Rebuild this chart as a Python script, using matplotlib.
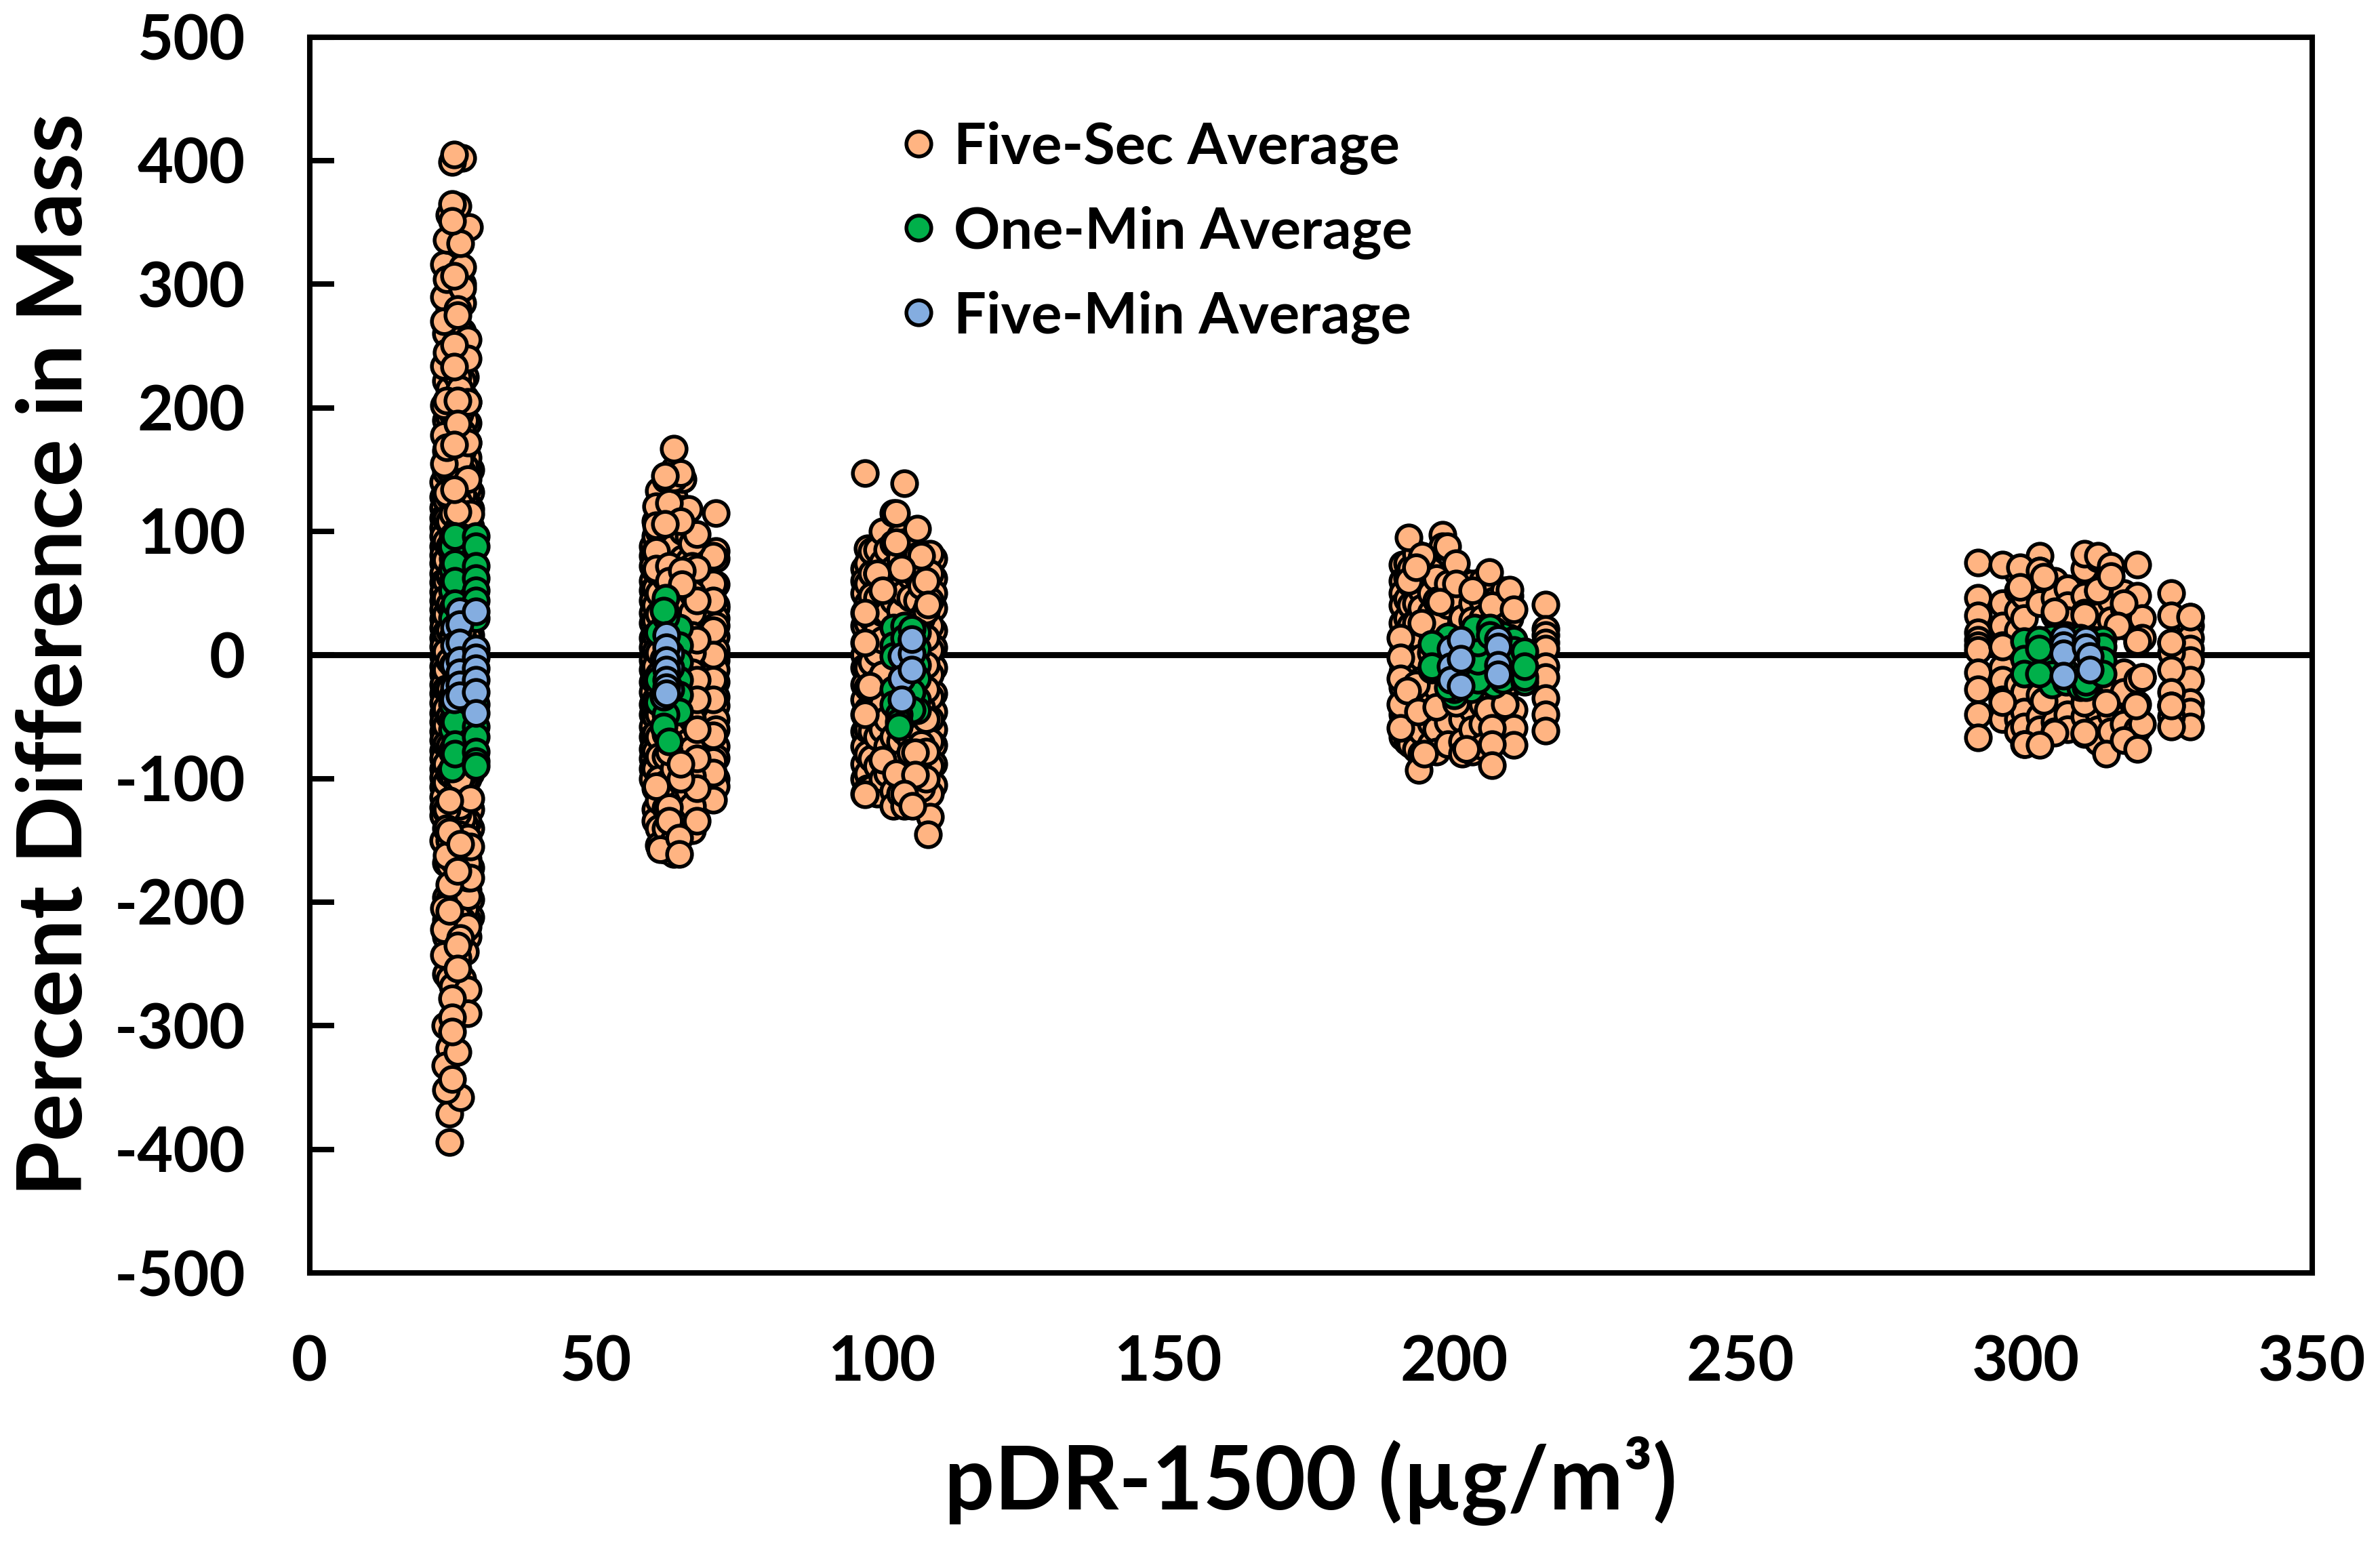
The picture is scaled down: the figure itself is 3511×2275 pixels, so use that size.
import matplotlib
matplotlib.use('Agg')
import matplotlib.pyplot as plt

# each row is (pDR-1500 reading, [percent differences]), rows are drawn in order
five_sec_25 = [
    (28.1, [150, 132, 118, 104, 90, 72, 58, 44, 30, 16, 2, -12, -26, -40, -54, -68, -82, -96, -125, -140, -172, -198, -212]),
    (27.7, [205, 188, 172, 160, 148, 135, 122, 110, 98, 85, 70, 55, 40, 28, 15, 3, -10, -22, -35, -48, -60, -75, -88, -100, -135, -150, -165, -190, -215, -228]),
    (27.2, [245, 225, 208, 190, 170, 152, 140, 125, 108, 92, 78, 60, 42, 26, 10, -6, -20, -38, -52, -68, -84, -100, -120, -138, -160, -205, -222, -240]),
    (26.7, [300, 285, 262, 240, 222, 200, 180, 165, 148, 130, 112, 96, 76, 58, 38, 20, 4, -14, -30, -46, -64, -80, -98, -116, -132, -150, -172, -195, -215, -262]),
    (23.4, [140, 128, 119, 111, 103, 96, 88, 81, 74, 66, 59, 51, 44, 37, 29, 22, 14, 7, -1, -9, -16, -24, -31, -39, -47, -54, -62, -69, -77, -84, -92, -99, -107, -115, -123, -130, -150]),
    (23.9, [260, 222, 190, 165, 148, 126, 110, 92, 77, 60, 46, 33, 18, 3, -12, -27, -43, -57, -72, -88, -103, -126, -140, -168, -196, -214, -228, -258]),
    (24.4, [280, 245, 215, 192, 170, 150, 128, 108, 88, 64, 41, 20, -5, -28, -50, -74, -96, -128, -150, -170, -198, -225, -262, -318]),
    (25.0, [320, 268, 230, 195, 158, 135, 114, 96, 78, 60, 38, 15, -8, -32, -52, -76, -98, -120, -138, -166, -196, -238, -268]),
    (25.9, [225, 190, 168, 146, 125, 102, 84, 62, 40, 18, -6, -30, -54, -82, -104, -128, -146, -162, -190, -212, -245]),
    (26.2, [262, 215, 195, 172, 158, 140, 122, 100, 80, -100, -122, -145, -168, -195, -222]),
    (23.5, [316, 290, 270, 234, 202, 178, 155, -205, -222, -243]),
    (27.6, [255, 240, 205, 172, 142, -195, -168, -148, -180, -220]),
    (24.0, [336, 304, 245, 206, 168, 131, -162, -125, -140]),
    (28.1, [114, -116, -155, -180]),
    (27.9, [346]),
    (26.7, [402, 314, 297]),
    (24.4, [356, -118, -143, -186, -207, -371, -394]),
    (26.4, [333, -229, -153, -358]),
    (23.7, [-332, -300]),
    (27.7, [-271, -290]),
    (23.9, [-352]),
    (25.9, [363, 280, 275, 206, 187, 116, -175, -235, -254, -321]),
    (24.9, [399, 365, 351, -278, -293, -305, -343]),
    (25.3, [405, 307, 251, 233, 170, 134]),
]

five_sec_62 = [
    (71.0, [115, 84, 78, 57, 40, 38, 30, 24, 15, 4, -4, -12, -22, -34, -41, -52, -60, -74, -83, -100, -106]),
    (70.6, [80, 58, 44, 20, 0, -20, -36, -65, -86, -95, -117]),
    (60.0, [88, 80, 72, 60, 52, 44, 34, 26, 14, 6, -4, -12, -22, -30, -40, -48, -58, -66, -76, -84, -92, -100]),
    (60.5, [108, 96, 84, 68, 54, 40, 28, 16, 3, -9, -22, -36, -50, -64, -78, -92, -108, -125, -134]),
    (61.1, [133, 118, 100, 85, 66, 50, 33, 18, 2, -16, -30, -48, -66, -82, -100, -118, -140, -154]),
    (62.3, [142, 120, 98, 84, 62, 44, 20, -10, -42, -64, -82, -104, -124, -140, -158]),
    (63.7, [150, 128, 104, 88, 66, 44, -52, -72, -92, -110, -128, -150, -161]),
    (65.2, [142, 118, 100, 78, 58, 30, 10, -18, -38, -60, -84, -104, -118, -138]),
    (66.3, [118, 96, 76, 60, 42, 22, 6, -8, -26, -46, -70, -92, -110, -128]),
    (66.9, [90, 72, 50, 34, 16, 2, -14, -32, -52, -76, -98, -122, -142]),
    (67.7, [98, 70, 44, 12, -20, -36, -60, -84, -108, -134]),
    (60.6, [120, 105, 84, 70, -106]),
    (62.9, [123, 72, 60, -78]),
    (63.7, [167, 143]),
    (64.9, [147, 108]),
    (62.1, [145, 106]),
    (65.1, [68, 57]),
    (64.8, [-100, -88]),
    (62.9, [-123, -134]),
    (61.3, [-157]),
    (64.6, [-148, -161]),
]

five_sec_104 = [
    (109.0, [78, 62, 50, 38, 20, 6, -10, -31, -46, -60, -73, -88, -105]),
    (108.4, [82, 66, 44, 24, 4, -16, -34, -52, -70, -90, -112, -131]),
    (97.0, [70, 60, 50, 34, 24, 10, 0, -10, -24, -36, -48, -62, -74, -88, -100, -112]),
    (97.6, [86, 74, 58, 42, 26, 8, -10, -26, -44, -60, -80, -96, -108]),
    (98.3, [84, 66, 48, 30, 12, -6, -25, -44, -62, -84, -108]),
    (99.2, [85, 66, 46, 20, 2, -22, -42, -66, -90, -112]),
    (100.2, [100, 75, 52, 34, 12, -16, -40, -60, -85, -100]),
    (101.0, [85, 62, 34, -52, -74, -96]),
    (102.0, [115, 90, 70, 44, -66, -82, -110, -122]),
    (103.2, [96, 78, 54, 36, -70, -88, -112]),
    (103.9, [91, 70, 50, -62, -100, -122]),
    (105.0, [86, 64, 46, -68, -79, -112]),
    (106.2, [102, 80, 64, 44, -58, -90, -97]),
    (106.9, [80, 56, 30, -42, -72, -108]),
    (107.7, [60, 36, 14, -8, -28, -52, -78, -100]),
    (97.1, [147, 34, 10, -48, -113]),
    (103.9, [139]),
    (102.5, [115, 91]),
    (103.5, [70]),
    (99.2, [66]),
    (100.2, [52]),
    (108.1, [41]),
    (97.9, [-25]),
    (100.2, [-85]),
    (102.5, [-96]),
    (105.8, [-79, -97]),
    (103.9, [-112]),
    (105.4, [-122]),
    (108.1, [-145]),
]

five_sec_205 = [
    (216.0, [41, 21, 16, 10, 5, -9, -18, -35, -48, -61]),
    (191.0, [73, 60, 50, 40, 26, 14, 2, -6, -14, -26, -38, -48, -57, -66]),
    (191.8, [74, 62, 45, 30, 16, 4, -10, -22, -38, -50, -62, -70]),
    (192.5, [70, 58, 40, 24, 6, -12, -30, -44, -60, -72]),
    (193.4, [82, 60, 42, 26, 12, -6, -24, -42, -56, -76]),
    (194.3, [78, 52, 38, 14, -2, -20, -46, -62, -80]),
    (196.0, [68, 50, 34, 20, 2, -18, -40, -55, -72]),
    (197.0, [62, 44, 28, -26, -44, -60, -78]),
    (199.0, [58, 40, -38, -54, -72]),
    (201.5, [60, 44, 30, -38, -52, -70, -80]),
    (203.2, [58, 42, 28, -44, -60, -78]),
    (205.0, [60, 44, 30, -40, -56, -74]),
    (207.0, [54, 44, 30, -42, -62, -68]),
    (208.8, [52, 40, 20, -20, -30, -50, -66]),
    (209.7, [48, 30, 14, -6, -22, -44, -62, -70]),
    (190.7, [14, -2, -19, -40, -59]),
    (192.1, [95, 60]),
    (198.0, [97, 88]),
    (198.9, [88]),
    (194.5, [80]),
    (193.4, [71]),
    (200.4, [74, 58]),
    (203.2, [52]),
    (197.6, [43]),
    (206.2, [67]),
    (206.7, [40]),
    (209.7, [53]),
    (210.5, [37, -44, -59, -73]),
    (194.3, [26]),
    (193.4, [-24]),
    (191.8, [-29]),
    (193.8, [-46]),
    (197.0, [-42]),
    (200.4, [-39]),
    (205.9, [-44]),
    (208.9, [-40]),
    (206.7, [-59, -72]),
    (202.2, [-76]),
    (206.7, [-89]),
    (193.9, [-93]),
    (194.8, [-80]),
]

five_sec_308 = [
    (328.7, [31, 24, 14, 5, -4, -20, -38, -46, -58]),
    (325.4, [50, 32, 10, 2, -12, -30, -41, -50, -58]),
    (291.6, [46, 32, 18, 12, 8, 4, -14, -28, -48, -67]),
    (295.9, [42, 24, 8, -10, -20, -36, -52]),
    (298.6, [66, 52, 36, 20, -24, -40, -52, -62]),
    (299.7, [60, 48, 30, -30, -46, -58, -72]),
    (302.4, [80, 68, 56, 42, -32, -50, -60]),
    (305.0, [60, 46, 32, -38, -54, -62]),
    (307.2, [54, 40, 28, -36, -48, -60]),
    (310.2, [70, 48, 34, -38, -50, -64]),
    (312.6, [78, 52, 32, -30, -46, -60, -70]),
    (314.8, [70, 44, 28, -22, -48, -62]),
    (317.1, [50, 38, 24, -14, -30, -56]),
    (319.5, [48, 28, 10, -20, -40, -60]),
    (320.3, [30, 14, -18, -56]),
    (291.6, [75]),
    (295.9, [73, 7, -38]),
    (299.0, [71, 55]),
    (302.4, [68]),
    (303.1, [63]),
    (305.0, [35]),
    (310.2, [82, 32]),
    (312.6, [80, 52]),
    (314.8, [72, 64]),
    (319.5, [73]),
    (317.1, [42]),
    (316.0, [24]),
    (319.5, [11]),
    (320.3, [-18]),
    (303.1, [-37]),
    (310.2, [-39]),
    (314.0, [-39]),
    (319.2, [-41]),
    (305.0, [-63]),
    (310.2, [-63]),
    (299.8, [-72]),
    (302.4, [-73]),
    (314.0, [-80]),
    (317.1, [-69]),
    (319.5, [-76]),
    (325.4, [-41, 10]),
    (328.7, [31]),
]

one_min_25 = [
    (24.9, [88, 70, 52, 30, -40, -60, -78, -92]),
    (26.2, [62, 50, 38, 26, -28, -40, -54, -68]),
    (25.4, [96, 74, 60, 42, -54, -72, -80]),
    (29.1, [96, 88, 72, 62, 52, 44, 30, -40, -58, -66, -78, -86, -90]),
]
one_min_62 = [
    (64.6, [22, 8, -6, -20, -32, -46]),
    (60.9, [18, -20, -38]),
    (62.3, [46, 31, -30, -48]),
    (61.9, [36, -58]),
    (62.9, [-70]),
]
one_min_104 = [
    (106.2, [18, 5, -8, -19, -36, -45]),
    (102.0, [22, 8, -1, -28, -40]),
    (104.0, [24, 14, -20, -38, -50]),
    (105.3, [21, 12, -30, -44]),
    (103.0, [-48, -54, -58]),
]
one_min_205 = [
    (203.0, [14, 4, -16, -28]),
    (207.0, [20, -14, -24]),
    (208.6, [16, 4, -20]),
    (200.0, [-33, -28, 10]),
    (199.0, [-26, 5, 15]),
    (204.2, [-20, -5, 10]),
    (203.6, [22]),
    (206.3, [22, 16]),
    (210.5, [12, 4, -5]),
    (212.4, [-22, -18, 3, -9]),
    (196.1, [-12, 9, -9]),
]
one_min_308 = [
    (304.5, [14, 2, -16, -24]),
    (307.0, [16, 4, -14, -22]),
    (309.5, [14, -18, -26]),
    (310.4, [-26, -22]),
    (313.4, [12, 7, -4, -15]),
    (299.7, [11, -3, -15]),
    (302.3, [12, 5, -15]),
]

five_min_25 = [
    (25.3, [22, 8, -8, -26, -36]),
    (26.2, [35, 25, 10, -4, -14, -24, -33]),
    (29.1, [35, 5, -2, -11, -20, -30, -47]),
]
five_min_62 = [
    (63.1, [1, -10, -28]),
    (61.9, [-3, -34]),
    (62.4, [16, 6, -4, -12, -20, -26, -31]),
]
five_min_104 = [
    (103.5, [-1, -19, -36]),
    (105.3, [1, 13, -12]),
]
five_min_205 = [
    (199.4, [5, -9, -20]),
    (207.7, [13, 7, -8, -16]),
    (201.2, [12, -3, -25]),
]
five_min_308 = [
    (306.5, [14, 8, 1, -17]),
    (310.4, [12, 6]),
    (311.2, [-1, -12]),
]

y_ticks = [-500, -400, -300, -200, -100, 0, 100, 200, 300, 400, 500]
x_ticks = [0, 50, 100, 150, 200, 250, 300, 350]


def flatten(*groups):
    xs, ys = [], []
    for group in groups:
        for x, values in group:
            for v in values:
                xs.append(x)
                ys.append(v)
    return xs, ys


plt.rcParams['font.family'] = ['Lato', 'DejaVu Sans']
plt.rcParams['font.weight'] = 'bold'
plt.rcParams['axes.unicode_minus'] = False

fig = plt.figure(figsize=(17.56, 11.375), dpi=200)
ax = fig.add_axes([0.13, 0.1745, 0.8412, 0.8015])

ax.axhline(0, color='black', linewidth=3.2, zorder=1)

series = [
    ('Five-Sec Average', '#FFB482', (five_sec_25, five_sec_62, five_sec_104, five_sec_205, five_sec_308)),
    ('One-Min Average', '#00B04A', (one_min_25, one_min_62, one_min_104, one_min_205, one_min_308)),
    ('Five-Min Average', '#84ADE0', (five_min_25, five_min_62, five_min_104, five_min_205, five_min_308)),
]
for name, color, groups in series:
    xs, ys = flatten(*groups)
    ax.plot(xs, ys, linestyle='none', marker='o', markersize=13.2, markerfacecolor=color,
            markeredgecolor='black', markeredgewidth=2.0, label=name, zorder=3)

ax.set_xlim(0, 350)
ax.set_ylim(-500, 500)
ax.set_xticks(x_ticks)
ax.set_yticks(y_ticks)
ax.tick_params(axis='x', length=0, pad=33, labelsize=33)
ax.tick_params(axis='y', direction='in', length=13, width=2.9, pad=34, labelsize=33)
for spine in ax.spines.values():
    spine.set_linewidth(2.9)

ax.set_xlabel('pDR-1500 (µg/m³)', fontsize=47, fontweight='bold', va='baseline')
ax.xaxis.set_label_coords(0.5, -0.1914)
ax.set_ylabel('Percent Difference in Mass', fontsize=47.5, fontweight='bold', va='baseline')
ax.yaxis.set_label_coords(-0.1136, 0.5)

ax.legend(loc='upper left', bbox_to_anchor=(0.3738, 0.9216), bbox_transform=fig.transFigure,
          frameon=False, fontsize=30.5, borderpad=0, borderaxespad=0, handlelength=1,
          handletextpad=0.107, labelspacing=0.54, numpoints=1)

fig.savefig('out.png', dpi=200)
